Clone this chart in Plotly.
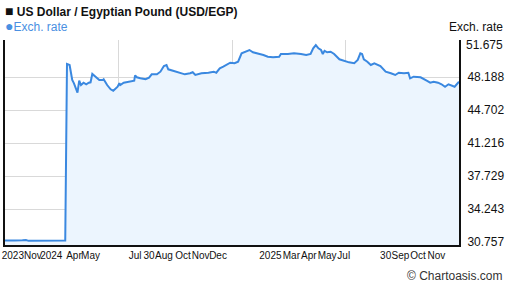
import plotly.graph_objects as go

# trading-day index (0..520 spans the two-year window) and USD/EGP rate
day = [0, 5, 11, 20, 24, 27, 43, 60, 69, 71, 74, 75, 77, 79, 81, 83, 85, 87, 90, 93, 96, 98,
       100, 104, 108, 112, 113, 117, 121, 124, 127, 129, 131, 132, 136, 142, 148, 149, 151,
       155, 161, 165, 168, 174, 178, 182, 185, 187, 193, 201, 206, 212, 215, 218, 223, 225,
       233, 239, 242, 246, 250, 254, 258, 263, 267, 271, 275, 280, 284, 290, 296, 301, 307,
       314, 316, 324, 331, 339, 345, 350, 353, 356, 359, 362, 364, 366, 369, 373, 377, 383,
       388, 394, 400, 404, 407, 409, 411, 415, 419, 423, 430, 436, 442, 447, 451, 457, 462,
       464, 468, 476, 483, 487, 491, 496, 500, 504, 508, 512, 515, 520]
rate = [30.93, 30.90, 30.93, 30.95, 30.98, 30.90, 30.93, 30.93, 30.93, 49.60, 49.49, 48.96,
        47.90, 47.55, 47.03, 46.56, 47.83, 47.37, 47.62, 47.45, 47.62, 47.66,
        48.54, 48.25, 47.90, 47.90, 47.98, 47.37, 46.92, 46.77, 47.09, 47.19, 47.55, 47.37,
        47.62, 47.72, 47.83, 48.40, 48.19, 48.08, 47.98, 48.15, 48.50, 48.50, 48.78, 49.38,
        49.49, 49.03, 48.85, 48.61, 48.50, 48.61, 48.72, 48.43, 48.61, 48.61,
        48.67, 48.78, 48.67, 49.14, 49.31, 49.56, 49.73, 49.67, 49.84, 50.72, 50.89, 51.07,
        50.83, 50.72, 50.54, 50.36, 50.30, 50.36, 50.65, 50.65, 50.72, 50.65, 50.54, 50.65,
        51.25, 51.60, 51.25, 51.07, 50.65, 50.99, 50.83, 50.89, 50.65, 50.09,
        49.91, 49.77, 49.67, 50.02, 50.72, 50.65, 50.09, 49.84, 49.49, 49.67, 49.38, 48.78,
        48.61, 48.43, 48.67, 48.61, 48.67, 48.08, 48.25, 48.19, 47.83, 47.62, 47.72, 47.62,
        47.45, 47.19, 47.45, 47.27, 47.19, 47.72]

x_tick_pos = [9, 32, 53, 79, 98, 149, 165, 182, 204, 224, 244, 304, 328, 348, 369, 388,
              436, 453, 473, 494]
x_tick_text = ["2023", "Nov", "2024", "Apr", "May", "Jul", "30", "Aug", "Oct", "Nov", "Dec",
               "2025", "Mar", "Apr", "May", "Jul", "30", "Sep", "Oct", "Nov"]
y_ticks = [30.757, 34.243, 37.729, 41.216, 44.702, 48.188]
y_top_label = "51.675"

LINE = "#3a88e0"
FILL = "#ecf5fe"
FONT = "Liberation Sans, Arial, sans-serif"

fig = go.Figure()
fig.add_trace(go.Scatter(
    x=day, y=rate, mode="lines", fill="tozeroy",
    line=dict(color=LINE, width=2), fillcolor=FILL, hoverinfo="skip"))

fig.update_layout(
    width=507, height=288,
    margin=dict(l=2, r=48, t=40, b=43),
    paper_bgcolor="white", plot_bgcolor="white",
    showlegend=False,
    font=dict(family=FONT, size=12, color="#111"),
    xaxis=dict(
        range=[0, 520], tickmode="array", tickvals=x_tick_pos, ticktext=x_tick_text,
        tickangle=0, ticklabeloverflow="allow",
        showgrid=False, zeroline=False, ticks="",
        showline=True, linecolor="#111", linewidth=2,
        tickfont=dict(size=10, color="#111"),
        minor=dict(tick0=0, dtick=130, showgrid=True, gridcolor="#d9d9d9", gridwidth=1, ticks=""),
    ),
    yaxis=dict(
        side="right", range=[30.46, 52.13], tickmode="array", tickvals=y_ticks,
        ticktext=[f"{v:.3f}" for v in y_ticks],
        showgrid=True, gridcolor="#d9d9d9", gridwidth=1, zeroline=False, ticks="",
        showline=True, mirror=True, linecolor="#111", linewidth=2,
        ticklabelstandoff=4,
        tickfont=dict(size=12, color="#111"),
    ),
)

fig.add_annotation(xref="paper", yref="paper", x=1, y=1, xanchor="left", yanchor="middle",
                   xshift=5, yshift=-5, text=y_top_label, showarrow=False,
                   font=dict(size=12, color="#111"))
fig.add_annotation(xref="paper", yref="paper", x=1, y=1, xanchor="right", yanchor="middle",
                   xshift=46, yshift=13, text="Exch. rate", showarrow=False,
                   font=dict(size=12, color="#111"))
fig.add_annotation(xref="paper", yref="paper", x=0, y=1, xanchor="left", yanchor="middle",
                   xshift=-2, yshift=29,
                   text="<span style='font-size:14px'>\u25a0</span><b> US Dollar / Egyptian Pound (USD/EGP)</b>",
                   showarrow=False, font=dict(size=12, color="#111"))
fig.add_annotation(xref="paper", yref="paper", x=0, y=1, xanchor="left", yanchor="middle",
                   xshift=-2, yshift=14,
                   text="<span style='font-size:14px'>\u25cf</span>Exch. rate",
                   showarrow=False, font=dict(size=12, color="#4a90e2"))
fig.add_annotation(xref="paper", yref="paper", x=1, y=0, xanchor="right", yanchor="middle",
                   xshift=46, yshift=-31, text="\u00a9 Chartoasis.com", showarrow=False,
                   font=dict(size=12, color="#333"))

fig.write_html("out.html")
